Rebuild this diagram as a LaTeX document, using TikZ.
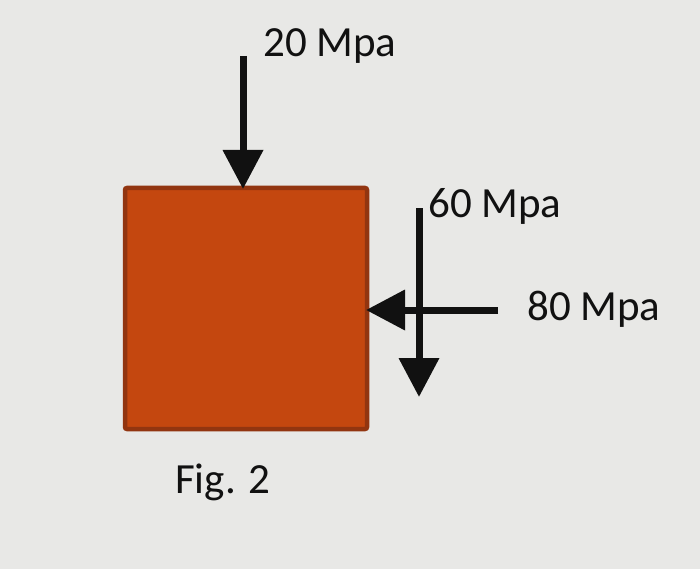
\documentclass[tikz,border=0pt]{standalone}
\usepackage{fontspec}
\setmainfont{Carlito}
\usetikzlibrary{arrows.meta}
\definecolor{bg}{HTML}{E8E8E6}
\definecolor{boxfill}{HTML}{C4470F}
\definecolor{boxedge}{HTML}{923510}
\definecolor{ink}{HTML}{111111}
\tikzset{
  force/.style={draw=ink, line width=7pt, -{Triangle[length=39pt,width=39pt]}},
  lbl/.style={anchor=base west, inner sep=0pt, text=ink, font=\fontsize{43}{46}\selectfont},
}
\begin{document}
\begin{tikzpicture}[x=1pt,y=-1pt]
\fill[bg] (0,0) rectangle (700,569);
\useasboundingbox (0,0) rectangle (700,569);
\node[draw=boxedge, fill=boxfill, line width=4.5pt, rounded corners=2pt, minimum width=242pt, minimum height=241pt, inner sep=0pt] (sq) at (246,308.5) {};
\coordinate (a1s) at (243,56);
\coordinate (a1e) at (243,189);
\coordinate (a2s) at (419,208);
\coordinate (a2e) at (419,397);
\coordinate (a3s) at (498,310);
\coordinate (a3e) at (366,310);
\draw[force] (a1s) -- (a1e);
\draw[force] (a2s) -- (a2e);
\draw[force] (a3s) -- (a3e);
\node[lbl] (t20) at (263,57) {20 Mpa};
\node[lbl] (t60) at (428,217) {60 Mpa};
\node[lbl] (t80) at (527,320) {80 Mpa};
\node[lbl] (fig) at (175,493) {Fig. 2};
\end{tikzpicture}
\end{document}
